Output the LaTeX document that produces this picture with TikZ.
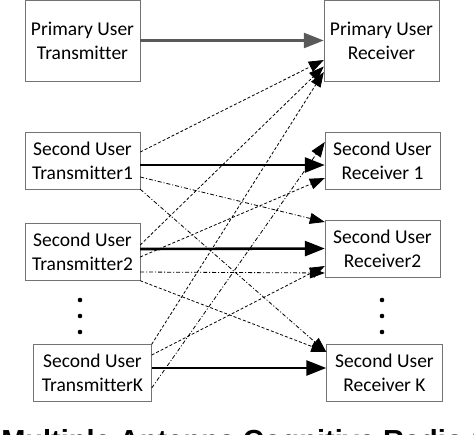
\documentclass[tikz,border=0pt]{standalone}
\usepackage{fontspec}
\setmainfont{Carlito}[Ligatures=NoCommon]
\newfontfamily\capfont{Liberation Sans}
\usepackage{tikz}
\usetikzlibrary{arrows.meta, positioning}

\begin{document}
\begin{tikzpicture}[x=1pt,y=1pt,->,>={Triangle[length=15pt,width=11pt]},
                    node distance=300pt,semithick]
   \tikzstyle{box}=[draw=black!55,thin,fill=white,align=center,
                    minimum width=115pt,minimum height=57pt,
                    font=\fontsize{19.5}{24}\selectfont]
   \tikzstyle{main}=[line width=2.6pt,black,-{Triangle[length=20pt,width=15pt]}]
   \tikzstyle{cross}=[line width=0.8pt,densely dashed]
   \tikzstyle{crossdot}=[line width=0.8pt,dash pattern=on 4pt off 2pt on 1pt off 2pt]

   \clip (0,0) rectangle (474,-434);

   \node[box,minimum height=81pt] (PUT) at (82.5,-40.5) {Primary User\\Transmitter};
   \node[box] (Tx1) [below of=PUT,node distance=120pt] {Second User\\Transmitter1};
   \node[box] (Tx2) [below of=Tx1,node distance=91.5pt] {Second User\\Transmitter2};
   \node[box,minimum width=118pt] (TxK) [below of=Tx2,node distance=121pt,xshift=10pt] {Second User\\TransmitterK};

   \node[box,minimum height=81pt] (PUR) [right of=PUT,xshift=-1pt] {Primary User\\Receiver};
   \node[box] (Rx1) [right of=Tx1] {Second User\\Receiver 1};
   \node[box] (Rx2) [right of=Tx2,yshift=3.5pt] {Second User\\Receiver2};
   \node[box,minimum width=116pt] (RxK) [right of=TxK,xshift=-8pt] {Second User\\Receiver K};

   % dots between the second users
   \foreach \y in {-300,-316,-332} {
      \fill[black] (80,\y) circle (2.3pt);
      \fill[black] (382,\y) circle (2.3pt);
   }

   % direct links
   \path (PUT.east) edge [main,black!65] (PUR.west)
         ([yshift=-4.5pt]Tx1.east) edge [main] ([yshift=-4.5pt]Rx1.west)
         ([yshift=3pt]Tx2.east) edge [main] (Rx2.west)
         ([yshift=5pt]TxK.east) edge [main] ([yshift=5pt]RxK.west);

   % interference links
   \path ([yshift=8.5pt]Tx1.east) edge [cross] ([yshift=-19.5pt]PUR.west)
         ([yshift=-16.5pt]Tx1.east) edge [crossdot] ([yshift=26.5pt]Rx2.west)
         (Tx1.south east) edge [crossdot] ([yshift=21pt]RxK.west)
         ([yshift=7pt]Tx2.east) edge [cross] ([yshift=-26pt]PUR.west)
         ([yshift=-5pt]Tx2.east) edge [cross] ([yshift=-17.5pt]Rx1.west)
         ([yshift=-20pt]Tx2.east) edge [crossdot] ([yshift=-24.5pt]Rx2.west)
         (Tx2.south east) edge [cross] ([yshift=21pt]RxK.west)
         (TxK.north east) edge [cross] ([yshift=-31.5pt]PUR.west)
         ([yshift=18pt]TxK.east) edge [cross] ([yshift=-17.5pt]Rx2.west)
         ([yshift=-15pt]TxK.east) edge [crossdot] ([yshift=18.5pt]Rx1.west);

   \node[anchor=base west,font=\capfont\bfseries\fontsize{29}{34}\selectfont,inner sep=0pt]
        (caption) at (1,-450) {Multiple Antenna Cognitive Radio S};
\end{tikzpicture}
\end{document}
